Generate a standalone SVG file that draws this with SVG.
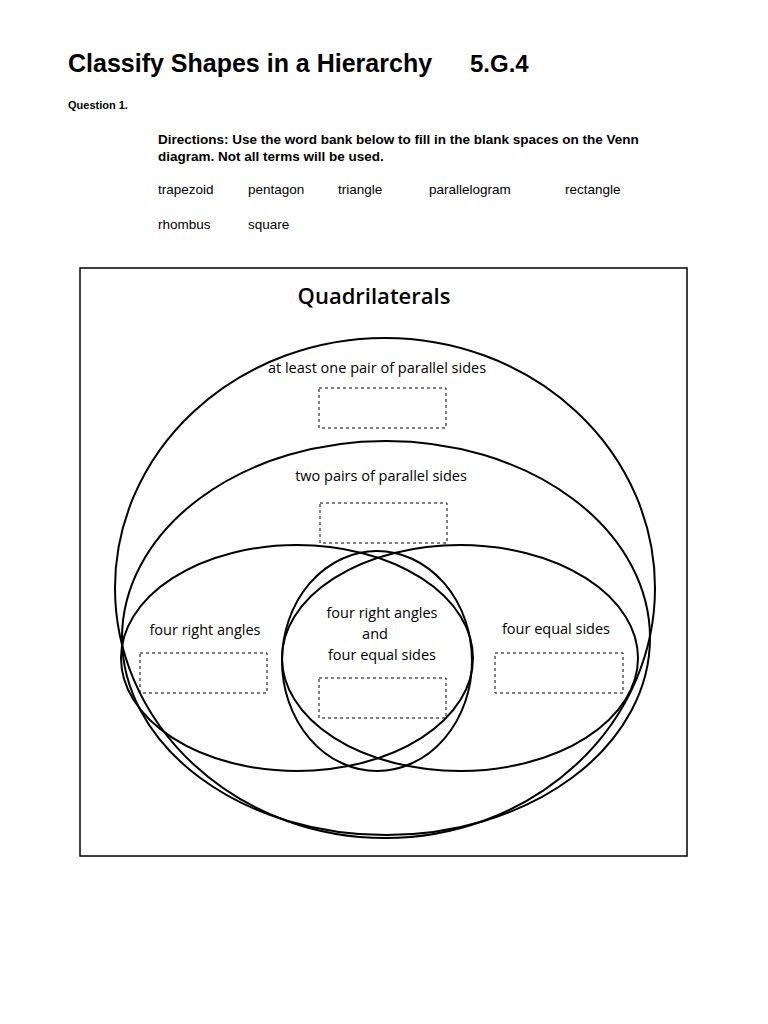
<svg xmlns="http://www.w3.org/2000/svg" width="768" height="1024" viewBox="0 0 768 1024">
<style>
.h{font-family:"Liberation Sans",Arial,sans-serif;font-weight:bold;fill:#000}
.w{font-family:"Liberation Sans",Arial,sans-serif;font-size:13.5px;fill:#000}
.c{font-family:"Open Sans","Noto Sans",sans-serif;font-size:14.5px;fill:#000;text-anchor:middle}
.e{fill:none;stroke:#000;stroke-width:2}
.d{fill:none;stroke:#000;stroke-width:1;stroke-dasharray:3,3}
</style>
<rect width="768" height="1024" fill="#fff"/>
<text class="h" x="68" y="72" style="font-size:25px">Classify Shapes in a Hierarchy</text>
<text class="h" x="470" y="72" style="font-size:24px">5.G.4</text>
<text class="h" x="68" y="109" style="font-size:11px">Question 1.</text>
<text class="h" x="158" y="144" style="font-size:13.5px">Directions: Use the word bank below to fill in the blank spaces on the Venn</text>
<text class="h" x="158" y="161" style="font-size:13.5px">diagram. Not all terms will be used.</text>
<text class="w" x="158" y="194">trapezoid</text>
<text class="w" x="248" y="194">pentagon</text>
<text class="w" x="338" y="194">triangle</text>
<text class="w" x="429" y="194">parallelogram</text>
<text class="w" x="565" y="194">rectangle</text>
<text class="w" x="158" y="229">rhombus</text>
<text class="w" x="248" y="229">square</text>
<rect x="80" y="268" width="607" height="588" fill="none" stroke="#000" stroke-width="1.5"/>
<text class="c" x="374" y="304" style="font-size:22px;font-weight:600">Quadrilaterals</text>
<g id="outer"><ellipse class="e" cx="385" cy="588" rx="270" ry="250"/>
<text class="c" x="377" y="373">at least one pair of parallel sides</text>
<rect class="d" x="319" y="388" width="127" height="40"/></g>
<g id="parallelogram"><ellipse class="e" cx="386" cy="638" rx="264" ry="197"/>
<text class="c" x="381" y="481">two pairs of parallel sides</text>
<rect class="d" x="320" y="503" width="127" height="40"/></g>
<g id="left"><ellipse class="e" cx="297" cy="658" rx="176" ry="113"/>
<text class="c" x="205" y="635">four right angles</text>
<rect class="d" x="140" y="653" width="127" height="40"/></g>
<g id="right"><ellipse class="e" cx="460" cy="658" rx="178" ry="113"/>
<text class="c" x="556" y="634">four equal sides</text>
<rect class="d" x="495" y="653" width="128" height="40"/></g>
<g id="middle"><ellipse class="e" cx="377" cy="661" rx="95" ry="110"/>
<text class="c" x="382" y="618">four right angles</text>
<text class="c" x="375" y="639">and</text>
<text class="c" x="382" y="660">four equal sides</text>
<rect class="d" x="319" y="678" width="127" height="40"/></g>
<g id="connectors"/>
</svg>
